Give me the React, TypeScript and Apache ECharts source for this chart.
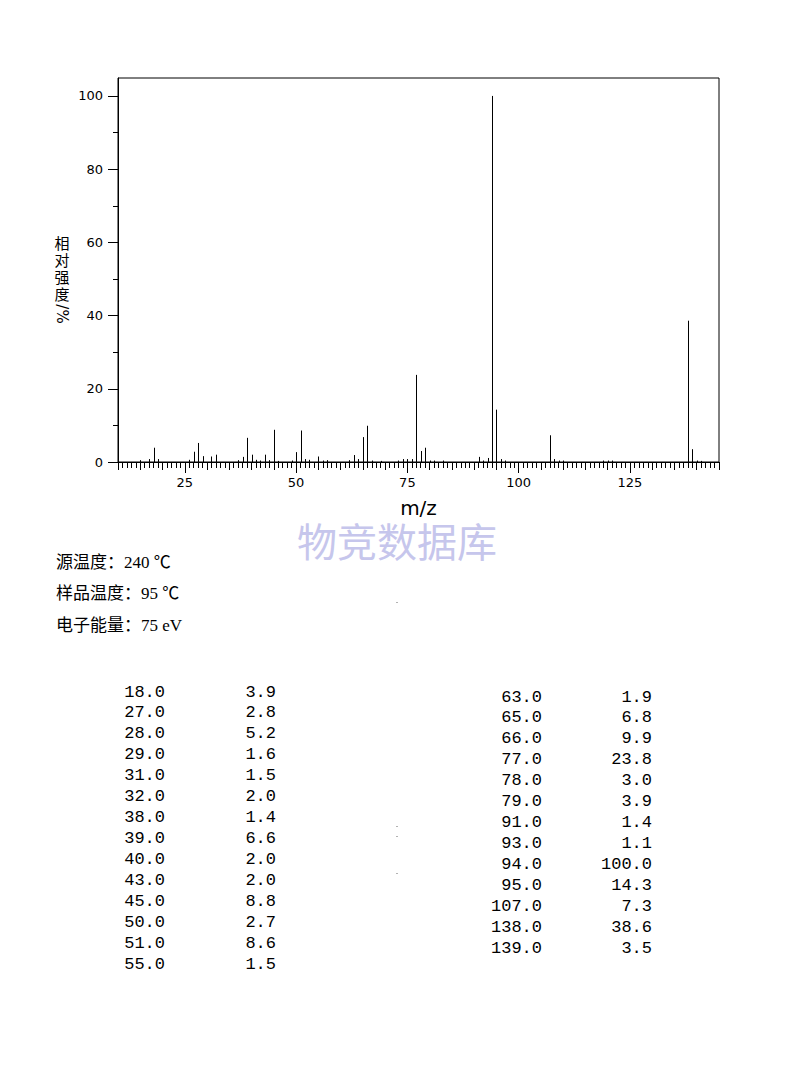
import React, { useEffect, useRef } from "react";
import * as echarts from "echarts";

// ---- data ----
const xTickLabels = [25, 50, 75, 100, 125];
const yTickLabels = [0, 20, 40, 60, 80, 100];
const yMinorTicks = [10, 30, 50, 70, 90];

const tableMz1 = [18, 27, 28, 29, 31, 32, 38, 39, 40, 43, 45, 50, 51, 55];
const tableInt1 = [3.9, 2.8, 5.2, 1.6, 1.5, 2.0, 1.4, 6.6, 2.0, 2.0, 8.8, 2.7, 8.6, 1.5];
const tableMz2 = [63, 65, 66, 77, 78, 79, 91, 93, 94, 95, 107, 138, 139];
const tableInt2 = [1.9, 6.8, 9.9, 23.8, 3.0, 3.9, 1.4, 1.1, 100.0, 14.3, 7.3, 38.6, 3.5];

// small peaks visible in the plot but not listed in the table
const minorMz = [15, 17, 19, 26, 37, 41, 42, 44, 46, 49, 52, 53, 56, 57, 62, 64, 67, 69, 73, 74, 75, 76, 80, 81, 83, 92, 96, 97, 108, 109, 110, 119, 120, 121, 140, 141];
const minorInt = [0.5, 0.8, 0.8, 0.6, 0.5, 0.6, 0.4, 0.5, 0.3, 0.4, 0.8, 0.6, 0.4, 0.5, 0.5, 0.8, 0.4, 0.3, 0.4, 0.8, 0.8, 0.8, 0.4, 0.4, 0.4, 0.4, 0.8, 0.4, 0.8, 0.4, 0.4, 0.4, 0.4, 0.4, 0.4, 0.3];

const infoLines = ["源温度：240 ℃", "样品温度：95 ℃", "电子能量：75 eV"];
const yNameHead = "相\n对\n强\n度";
const yNameTail = "/%";
const watermark = "物竞数据库";

export default function App() {
  const ref = useRef<HTMLDivElement>(null);

  useEffect(() => {
    const chart = echarts.init(ref.current!, null, { renderer: "svg" });

    const peaks: number[][] = [];
    tableMz1.forEach((m, i) => peaks.push([m, tableInt1[i]]));
    tableMz2.forEach((m, i) => peaks.push([m, tableInt2[i]]));
    minorMz.forEach((m, i) => peaks.push([m, minorInt[i]]));

    const grid = { left: 118, top: 78, width: 601, height: 384 };
    const axisFont = { fontFamily: "DejaVu Sans", fontSize: 13, color: "#000" };
    const black = { color: "#000", width: 1 };

    const graphics: any[] = [];
    // y axis name, stacked vertically
    graphics.push({
      type: "text",
      x: 62,
      y: 268,
      style: { text: yNameHead, fontSize: 15, lineHeight: 16.8, fontFamily: "Noto Sans CJK SC", fill: "#000", align: "center", verticalAlign: "middle" },
    });
    graphics.push({
      type: "text",
      x: 62,
      y: 314,
      rotation: -Math.PI / 2,
      style: { text: yNameTail, fontSize: 15, fontFamily: "DejaVu Sans", fill: "#000", align: "center", verticalAlign: "middle" },
    });
    // watermark
    graphics.push({
      type: "text",
      x: 397,
      y: 540,
      style: { text: watermark, fontSize: 40, fontFamily: "Noto Sans CJK SC", fill: "#c6c6ec", align: "center", verticalAlign: "middle" },
    });
    // info lines
    infoLines.forEach((t, i) => {
      graphics.push({
        type: "text",
        x: 56,
        y: 562 + i * 31.5,
        style: { text: t, fontSize: 17, fontFamily: "Liberation Serif, Noto Sans CJK SC", fill: "#000", align: "left", verticalAlign: "middle" },
      });
    });
    // peak tables
    const mono = { fontSize: 17, fontFamily: "Liberation Mono", fill: "#000", verticalAlign: "middle" };
    tableMz1.forEach((m, i) => {
      const y = 692 + i * 20.95;
      graphics.push({ type: "text", x: 165, y, style: { ...mono, text: m.toFixed(1), align: "right" } });
      graphics.push({ type: "text", x: 276, y, style: { ...mono, text: tableInt1[i].toFixed(1), align: "right" } });
    });
    tableMz2.forEach((m, i) => {
      const y = 697 + i * 20.95;
      graphics.push({ type: "text", x: 542, y, style: { ...mono, text: m.toFixed(1), align: "right" } });
      graphics.push({ type: "text", x: 652, y, style: { ...mono, text: tableInt2[i].toFixed(1), align: "right" } });
    });
    // stray dots of the original page
    [602, 826, 836, 873].forEach((y) => {
      graphics.push({ type: "rect", shape: { x: 396.5, y, width: 1, height: 1 }, style: { fill: "#666" } });
    });

    const option: any = {
      animation: false,
      backgroundColor: "#fff",
      grid: [
        { ...grid, show: true, borderColor: "#000", borderWidth: 1, backgroundColor: "transparent" },
        { ...grid, show: false },
      ],
      xAxis: [
        {
          type: "value",
          gridIndex: 0,
          min: 10,
          max: 145,
          interval: 5,
          axisLine: { show: true, lineStyle: black },
          axisTick: { show: true, length: 8, lineStyle: black },
          minorTick: { show: true, splitNumber: 5, length: 6, lineStyle: black },
          axisLabel: { show: false },
          splitLine: { show: false },
          minorSplitLine: { show: false },
          name: "m/z",
          nameLocation: "middle",
          nameGap: 36,
          nameTextStyle: { fontFamily: "DejaVu Sans", fontSize: 20, color: "#000" },
        },
        {
          type: "value",
          gridIndex: 1,
          min: 10,
          max: 145,
          axisLine: { show: false },
          axisTick: { show: true, length: 11, lineStyle: black, customValues: xTickLabels },
          axisLabel: { show: true, margin: 14, customValues: xTickLabels, ...axisFont },
          splitLine: { show: false },
        },
      ],
      yAxis: [
        {
          type: "value",
          gridIndex: 0,
          min: 0,
          max: 104.9,
          axisLine: { show: true, lineStyle: black },
          axisTick: { show: true, length: 5, lineStyle: black, customValues: yMinorTicks },
          axisLabel: { show: false },
          splitLine: { show: false },
        },
        {
          type: "value",
          gridIndex: 1,
          min: 0,
          max: 104.9,
          axisLine: { show: false },
          axisTick: { show: true, length: 10, lineStyle: black, customValues: yTickLabels },
          axisLabel: { show: true, margin: 15, customValues: yTickLabels, ...axisFont },
          splitLine: { show: false },
        },
      ],
      series: [
        {
          type: "custom",
          xAxisIndex: 0,
          yAxisIndex: 0,
          data: peaks,
          encode: { x: 0, y: 1 },
          renderItem: (params: any, api: any) => {
            const x = api.value(0);
            const v = api.value(1);
            const p0 = api.coord([x, 0]);
            const p1 = api.coord([x, v]);
            const px = Math.round(p0[0]) + 0.5;
            return {
              type: "line",
              shape: { x1: px, y1: p0[1], x2: px, y2: p1[1] },
              style: { stroke: "#000", lineWidth: 1 },
            };
          },
        },
      ],
      graphic: graphics,
    };

    chart.setOption(option);
    return () => chart.dispose();
  }, []);

  return (
    <div
      ref={ref}
      style={{ position: "absolute", left: 0, top: 0, width: 794, height: 1077, background: "#fff" }}
    />
  );
}
